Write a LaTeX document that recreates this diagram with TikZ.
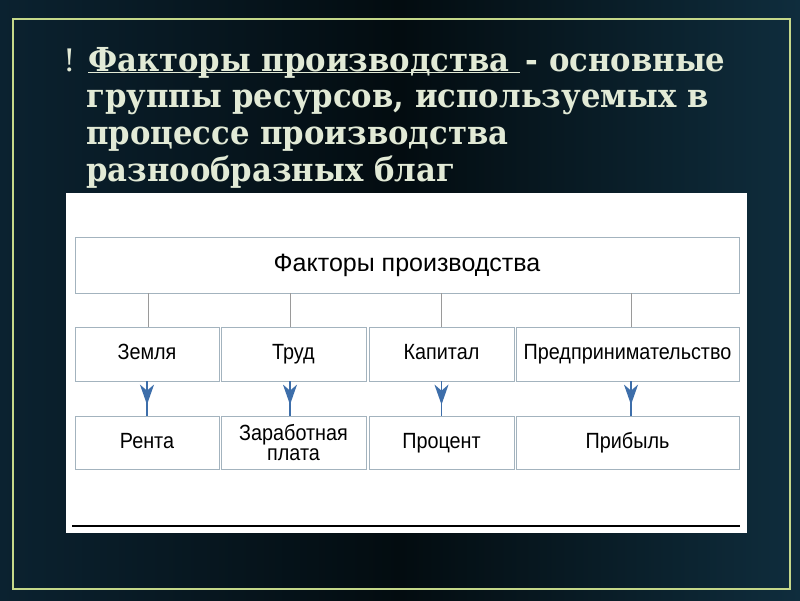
\documentclass[tikz,border=0pt]{standalone}
\usepackage{fontspec}
\setmainfont{DejaVu Serif}
\newfontfamily\titlefont[FakeStretch=0.93]{DejaVu Serif}
\newfontfamily\bangfont{DejaVu Serif}
\newfontfamily\diagfont[FakeStretch=0.9]{Liberation Sans}
\newfontfamily\topfont{Liberation Sans}
\usetikzlibrary{arrows.meta,decorations.markings}
\definecolor{bgdark}{HTML}{030C10}
\definecolor{bgleft}{HTML}{0B2230}
\definecolor{bgright}{HTML}{0F2D3D}
\definecolor{framec}{HTML}{C5D88A}
\definecolor{titlec}{HTML}{E2EAD6}
\definecolor{boxc}{HTML}{A3B3BE}
\definecolor{linec}{HTML}{9A9A9A}
\definecolor{arrowc}{HTML}{3D6EAA}
\tikzset{
  titleline/.style={anchor=base west, inner sep=0pt, text=titlec, font=\titlefont\bfseries\fontsize{33}{38}\selectfont},
  fbox/.style={draw=boxc, line width=0.9pt, fill=white, inner sep=0pt, font=\diagfont\fontsize{22}{23}\selectfont, align=center},
  onebox/.style={fbox, text height=15.5pt, text depth=4.5pt},
  topbox/.style={fbox, font=\topfont\fontsize{25}{28}\selectfont},
  conn/.style={draw=linec, line width=0.9pt},
  midarrow/.style={draw=arrowc, line width=1.8pt, postaction={decorate}, decoration={markings, mark=at position 0.68 with {\arrow{Stealth[length=20pt,width=14pt,inset=6pt]}}}}
}
\begin{document}
\begin{tikzpicture}[x=1pt,y=-1pt]
\useasboundingbox (0,0) rectangle (800,600);
\shade[left color=bgleft, right color=bgright, middle color=bgdark] (0,0) rectangle (800,600);
\draw[framec, line width=2.4pt] (13,19) rectangle (790,589);
% title
\node[titleline, font=\bangfont\fontsize{31}{36}\selectfont] (bang) at (63,71) {!};
\node[titleline] (t1) at (88,71) {\underbar{Факторы производства }\,- основные};
\node[titleline] (t2) at (86,107) {группы ресурсов, используемых в};
\node[titleline] (t3) at (86,144) {процессе производства};
\node[titleline] (t4) at (86,181) {разнообразных благ};
% panel
\fill[white] (66,193) rectangle (747,533);
\draw[black, line width=1.3pt] (72,526) -- (740,526);
% boxes
\node[topbox, minimum width=664pt, minimum height=56pt] (top) at (407,265) {Факторы производства};
\node[onebox, minimum width=144pt, minimum height=54pt] (zem) at (147,354) {Земля};
\node[onebox, minimum width=145pt, minimum height=54pt] (trud) at (293.5,354) {Труд};
\node[onebox, minimum width=145pt, minimum height=54pt] (kap) at (441.5,354) {Капитал};
\node[onebox, minimum width=223pt, minimum height=54pt] (pred) at (627.5,354) {Предпринимательство};
\node[onebox, minimum width=144pt, minimum height=53pt] (renta) at (147,442.5) {Рента};
\node[fbox, minimum width=145pt, minimum height=53pt] (zarp) at (293.5,442.5) {Заработная\\[-3pt]плата};
\node[onebox, minimum width=145pt, minimum height=53pt] (proc) at (441.5,442.5) {Процент};
\node[onebox, minimum width=223pt, minimum height=53pt] (prib) at (627.5,442.5) {Прибыль};
% connectors
\draw[conn] (top.south -| 148,0) -- (zem.north -| 148,0);
\draw[conn] (top.south -| 290,0) -- (trud.north -| 290,0);
\draw[conn] (top.south -| 441,0) -- (kap.north -| 441,0);
\draw[conn] (top.south -| 631,0) -- (pred.north -| 631,0);
\draw[midarrow] (zem.south) -- (renta.north);
\draw[midarrow] (zem.south -| 290,0) -- (zarp.north -| 290,0);
\draw[midarrow] (kap.south) -- (proc.north);
\draw[midarrow] (pred.south -| 631,0) -- (prib.north -| 631,0);
\end{tikzpicture}
\end{document}
